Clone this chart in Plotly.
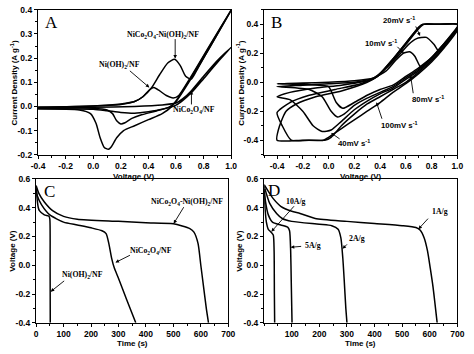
import plotly.graph_objects as go

# ---------------- Panel A : CV curves of three electrodes ----------------
A_comp_V = [-0.4, -0.2, 0.0, 0.2, 0.3, 0.36, 0.42, 0.48, 0.54, 0.59, 0.63, 0.67, 0.71, 0.76, 0.85, 1.0,
            0.85, 0.72, 0.62, 0.57, 0.5, 0.4, 0.3, 0.22, 0.17, 0.13, 0.11, 0.08, 0.05, 0.02, -0.02, -0.1, -0.4]
A_comp_I = [-0.005, -0.002, 0.002, 0.008, 0.02, 0.04, 0.075, 0.13, 0.18, 0.195, 0.17, 0.125, 0.113, 0.16, 0.25, 0.4,
            0.255, 0.13, 0.04, 0.0, -0.03, -0.055, -0.08, -0.1, -0.13, -0.168, -0.178, -0.17, -0.13, -0.07, -0.03, -0.015, -0.01]

A_nioh_V = [-0.4, 0.0, 0.2, 0.3, 0.36, 0.41, 0.44, 0.48, 0.53, 0.58, 0.62, 0.7, 0.85, 1.0,
            0.85, 0.72, 0.6, 0.55, 0.45, 0.35, 0.28, 0.23, 0.2, 0.17, 0.14, 0.1, 0.0, -0.4]
A_nioh_I = [-0.003, 0.002, 0.01, 0.02, 0.04, 0.07, 0.078, 0.065, 0.045, 0.035, 0.045, 0.115, 0.258, 0.398,
            0.25, 0.125, 0.02, -0.003, -0.02, -0.035, -0.05, -0.068, -0.073, -0.06, -0.03, -0.015, -0.008, -0.006]

A_nco_V = [-0.4, 0.0, 0.3, 0.5, 0.6, 0.65, 0.71, 0.8, 0.9, 1.0,
           0.9, 0.8, 0.72, 0.65, 0.6, 0.5, 0.4, 0.3, 0.2, 0.1, 0.0, -0.4]
A_nco_I = [-0.008, -0.004, 0.0, 0.006, 0.014, 0.032, 0.064, 0.125, 0.19, 0.245,
           0.182, 0.115, 0.062, 0.025, 0.005, -0.012, -0.022, -0.028, -0.025, -0.018, -0.012, -0.01]

# ---------------- Panel B : CV at different scan rates ----------------
B10_V = [-0.4, -0.2, 0.0, 0.2, 0.35, 0.45, 0.52, 0.58, 0.63, 0.67, 0.72, 0.8, 0.9, 1.0,
         0.9, 0.8, 0.7, 0.6, 0.5, 0.4, 0.3, 0.2, 0.11, 0.06, 0.02, 0.0, -0.2, -0.4]
B10_I = [-0.01, -0.005, 0.0, 0.01, 0.03, 0.08, 0.15, 0.2, 0.21, 0.18, 0.1, 0.17, 0.27, 0.37,
         0.27, 0.17, 0.1, 0.04, -0.02, -0.05, -0.09, -0.14, -0.18, -0.14, -0.06, -0.03, -0.015, -0.01]

B20_V = [-0.4, -0.2, 0.0, 0.2, 0.35, 0.45, 0.55, 0.62, 0.68, 0.76, 0.82, 0.86, 0.93, 1.0,
         0.9, 0.8, 0.7, 0.6, 0.5, 0.4, 0.3, 0.2, 0.12, 0.07, 0.02, -0.05, -0.15, -0.4]
B20_I = [-0.03, -0.02, -0.01, 0.0, 0.03, 0.1, 0.19, 0.26, 0.3, 0.31, 0.26, 0.21, 0.29, 0.38,
         0.27, 0.17, 0.09, 0.03, -0.03, -0.07, -0.11, -0.16, -0.22, -0.24, -0.2, -0.1, -0.05, -0.03]

B40_V = [-0.4, -0.3, -0.1, 0.1, 0.3, 0.38, 0.5, 0.6, 0.7, 0.74, 0.85, 1.0,
         1.0, 0.9, 0.8, 0.7, 0.6, 0.5, 0.4, 0.3, 0.2, 0.1, 0.02, -0.05, -0.12, -0.2, -0.3, -0.4]
B40_I = [-0.1, -0.07, -0.04, -0.02, 0.01, 0.04, 0.15, 0.26, 0.37, 0.4, 0.4, 0.4,
         0.38, 0.26, 0.16, 0.08, 0.02, -0.04, -0.08, -0.13, -0.19, -0.27, -0.33, -0.34, -0.3, -0.2, -0.12, -0.1]

B80_V = [-0.4, -0.3, -0.15, 0.05, 0.25, 0.37, 0.5, 0.6, 0.7, 0.73, 0.85, 1.0,
         1.0, 0.9, 0.8, 0.7, 0.6, 0.5, 0.4, 0.3, 0.2, 0.1, 0.02, -0.03, -0.15, -0.29, -0.36, -0.4]
B80_I = [-0.21, -0.14, -0.09, -0.05, -0.01, 0.035, 0.16, 0.27, 0.38, 0.4, 0.4, 0.4,
         0.37, 0.25, 0.15, 0.07, 0.0, -0.05, -0.1, -0.15, -0.22, -0.3, -0.38, -0.4, -0.4, -0.4, -0.3, -0.21]

B100_V = [-0.4, -0.38, -0.33, -0.25, -0.1, 0.1, 0.3, 0.38, 0.5, 0.6, 0.7, 0.73, 0.85, 1.0,
          1.0, 0.9, 0.8, 0.7, 0.6, 0.5, 0.4, 0.3, 0.2, 0.1, 0.0, -0.04, -0.2, -0.4]
B100_I = [-0.4, -0.3, -0.2, -0.15, -0.1, -0.06, 0.0, 0.04, 0.16, 0.27, 0.38, 0.4, 0.4, 0.4,
          0.36, 0.24, 0.14, 0.06, -0.01, -0.07, -0.14, -0.2, -0.26, -0.32, -0.38, -0.4, -0.4, -0.4]

# ---------------- Panel C : discharge curves of three electrodes ----------------
C_comp_t = [0, 10, 30, 60, 100, 150, 300, 400, 500, 560, 575, 590, 600, 610, 620, 628]
C_comp_V = [0.555, 0.5, 0.44, 0.38, 0.34, 0.32, 0.305, 0.295, 0.288, 0.255, 0.23, 0.15, 0.0, -0.15, -0.3, -0.4]

C_nco_t = [0, 5, 20, 50, 100, 150, 200, 240, 255, 265, 275, 285, 300, 330, 363]
C_nco_V = [0.53, 0.48, 0.42, 0.35, 0.3, 0.28, 0.26, 0.24, 0.22, 0.15, 0.05, -0.02, -0.09, -0.24, -0.4]

C_nioh_t = [0, 3, 8, 12, 30, 47, 50, 51, 51.5]
C_nioh_V = [0.55, 0.47, 0.4, 0.38, 0.35, 0.34, 0.32, 0.0, -0.4]

# ---------------- Panel D : discharge at different current densities ----------------
D1_t = [0, 30, 60, 100, 130, 185, 300, 400, 500, 550, 565, 580, 592, 602, 612, 627]
D1_V = [0.56, 0.47, 0.41, 0.375, 0.36, 0.325, 0.305, 0.29, 0.275, 0.262, 0.245, 0.19, 0.1, -0.02, -0.15, -0.4]

D2_t = [0, 20, 45, 67, 100, 200, 245, 268, 278, 285, 290, 296, 300]
D2_V = [0.55, 0.43, 0.36, 0.323, 0.305, 0.285, 0.275, 0.25, 0.19, 0.05, -0.1, -0.3, -0.4]

D5_t = [0, 5, 15, 30, 60, 85, 92, 96, 98, 101]
D5_V = [0.53, 0.44, 0.35, 0.3, 0.28, 0.265, 0.24, 0.1, -0.1, -0.4]

D10_t = [0, 3, 8, 15, 25, 33, 36, 37, 38]
D10_V = [0.52, 0.4, 0.3, 0.25, 0.23, 0.21, 0.1, -0.2, -0.4]

# ---------------- tick labels ----------------
A_xticks = [-0.4, -0.2, 0.0, 0.2, 0.4, 0.6, 0.8, 1.0]
A_xtext = ["-0.4", "-0.2", "0.0", "0.2", "0.4", "0.6", "0.8", "1.0"]
A_yticks = [-0.2, -0.1, 0.0, 0.1, 0.2, 0.3, 0.4]
A_ytext = ["-0.2", "-0.1", "0.0", "0.1", "0.2", "0.3", "0.4"]
B_yticks = [-0.4, -0.2, 0.0, 0.2, 0.4]
B_ytext = ["-0.4", "-0.2", "0.0", "0.2", "0.4"]
C_xticks = [0, 100, 200, 300, 400, 500, 600, 700]
C_xtext = ["0", "100", "200", "300", "400", "500", "600", "700"]
D_xticks = [100, 200, 300, 400, 500, 600, 700]
D_xtext = ["100", "200", "300", "400", "500", "600", "700"]
CD_yticks = [-0.4, -0.2, 0.0, 0.2, 0.4, 0.6]
CD_ytext = ["-0.4", "-0.2", "0.0", "0.2", "0.4", "0.6"]

W, H = 474, 354
fig = go.Figure()
LINE = dict(color="black", width=1.5, shape="spline", smoothing=0.6)

def add(x, y, xa, ya):
    fig.add_trace(go.Scatter(x=x, y=y, mode="lines", line=LINE, xaxis=xa, yaxis=ya,
                             showlegend=False, hoverinfo="skip"))

for xs, ys in [(A_comp_V, A_comp_I), (A_nioh_V, A_nioh_I), (A_nco_V, A_nco_I)]:
    add(xs, ys, "x", "y")
for xs, ys in [(B10_V, B10_I), (B20_V, B20_I), (B40_V, B40_I), (B80_V, B80_I), (B100_V, B100_I)]:
    add(xs, ys, "x2", "y2")
for xs, ys in [(C_comp_t, C_comp_V), (C_nco_t, C_nco_V), (C_nioh_t, C_nioh_V)]:
    add(xs, ys, "x3", "y3")
for xs, ys in [(D1_t, D1_V), (D2_t, D2_V), (D5_t, D5_V), (D10_t, D10_V)]:
    add(xs, ys, "x4", "y4")

TF = dict(family="Liberation Sans", size=8.5, color="black", weight="bold")

def axis(dom, rng, tv, tt, minor_dt, anchor):
    return dict(domain=dom, range=rng, tickmode="array", tickvals=tv, ticktext=tt,
                showline=True, mirror=True, linecolor="black", linewidth=1.4,
                ticks="outside", ticklen=3, tickwidth=1, tickcolor="black",
                showgrid=False, zeroline=False, tickfont=TF, anchor=anchor,
                minor=dict(ticks="outside", ticklen=2, tickwidth=1, tickcolor="black",
                           dtick=minor_dt, tick0=0, showgrid=False))

def px_x(a, b):
    return [a / W, b / W]

def px_y(top, bot):
    return [1 - bot / H, 1 - top / H]

fig.update_layout(
    width=W, height=H, margin=dict(l=0, r=0, t=0, b=0),
    paper_bgcolor="white", plot_bgcolor="white", showlegend=False,
    xaxis=axis(px_x(32, 231), [-0.4, 1.0], A_xticks, A_xtext, 0.1, "y"),
    yaxis=axis(px_y(5, 154), [-0.2, 0.4], A_yticks, A_ytext, 0.05, "x"),
    xaxis2=axis(px_x(265, 464), [-0.5, 1.0], A_xticks, A_xtext, 0.1, "y2"),
    yaxis2=axis(px_y(5, 154), [-0.5, 0.5], B_yticks, B_ytext, 0.1, "x2"),
    xaxis3=axis(px_x(30, 228), [0, 700], C_xticks, C_xtext, 50, "y3"),
    yaxis3=axis(px_y(179, 327), [-0.4, 0.6], CD_yticks, CD_ytext, 0.1, "x3"),
    xaxis4=axis(px_x(265, 464), [0, 700], D_xticks, D_xtext, 50, "y4"),
    yaxis4=axis(px_y(179, 327), [-0.4, 0.6], CD_yticks, CD_ytext, 0.1, "x4"),
)

ann = []
TITLE = dict(family="Liberation Sans", size=8, color="black", weight="bold")

def ptext(text, px, py, font, angle=0):
    ann.append(dict(text=text, x=px / W, y=1 - py / H, xref="paper", yref="paper",
                    showarrow=False, font=font, textangle=angle,
                    xanchor="center", yanchor="middle"))

# axis titles
ptext("Current Density (A g<sup>-1</sup>)", 7, 80, TITLE, -90)
ptext("Current Density (A g<sup>-1</sup>)", 240, 80, TITLE, -90)
ptext("Voltage (V)", 6, 253, TITLE, -90)
ptext("Voltage (V)", 240, 253, TITLE, -90)
ptext("Voltage (V)", 131, 176, TITLE)
ptext("Voltage (V)", 365, 176, TITLE)
ptext("Time (s)", 129, 348.5, TITLE)
ptext("Time (s)", 364, 348.5, TITLE)

# panel letters
LET = dict(family="Liberation Serif", size=17, color="black")
ptext("A", 46, 18, LET)
ptext("B", 278, 18, LET)
ptext("C", 44, 192, LET)
ptext("D", 275, 191, LET)

# curve labels
SER = dict(family="Liberation Serif", size=7.8, color="black", weight="bold")
SAN = dict(family="Liberation Sans", size=7.8, color="black", weight="bold")
ptext("NiCo<sub>2</sub>O<sub>4</sub>-Ni(OH)<sub>2</sub>/NF", 161, 31, SER)
ptext("Ni(OH)<sub>2</sub>/NF", 116, 62, SER)
ptext("NiCo<sub>2</sub>O<sub>4</sub>/NF", 193, 108, SER)
ptext("20mV s<sup>-1</sup>", 404, 15, SAN)
ptext("10mV s<sup>-1</sup>", 385, 39, SAN)
ptext("80mV s<sup>-1</sup>", 434, 97, SAN)
ptext("100mV s<sup>-1</sup>", 404, 123, SAN)
ptext("40mV s<sup>-1</sup>", 358, 142, SAN)
ptext("NiCo<sub>2</sub>O<sub>4</sub>-Ni(OH)<sub>2</sub>/NF", 185, 203, SER)
ptext("NiCo<sub>2</sub>O<sub>4</sub>/NF", 148, 253, SER)
ptext("Ni(OH)<sub>2</sub>/NF", 78, 278, SER)
ptext("10A/g", 298, 202, SER)
ptext("1A/g", 446, 213, SER)
ptext("2A/g", 361, 240, SER)
ptext("5A/g", 315, 248, SER)

# arrows: head in data coords, tail as pixel offset
def arrow(xa, ya, x, y, ax, ay):
    ann.append(dict(text="", x=x, y=y, xref=xa, yref=ya, ax=ax, ay=ay, showarrow=True,
                    arrowhead=2, arrowsize=0.8, arrowwidth=0.9, arrowcolor="black"))

arrow("x", "y", 0.594, 0.198, 0, -21)
arrow("x", "y", 0.407, 0.078, -21, -18)
arrow("x", "y", 0.712, 0.064, 0, 15)
arrow("x2", "y2", 0.711, 0.32, -5, -11)
arrow("x2", "y2", 0.585, 0.2, -8, -8)
arrow("x2", "y2", 0.636, 0.052, 3, 20)
arrow("x2", "y2", 0.372, -0.138, 6, 18)
arrow("x2", "y2", 0.02, -0.35, 10, 7)
arrow("x3", "y3", 501, 0.289, 11, -18)
arrow("x3", "y3", 289, 0.019, 16, -8)
arrow("x3", "y3", 53, -0.184, 15, -12)
arrow("x4", "y4", 26, 0.233, 24, -27)
arrow("x4", "y4", 559, 0.251, 11, -12)
arrow("x4", "y4", 284, 0.114, 6, -6)
arrow("x4", "y4", 96, 0.125, 12, -1)

fig.update_layout(annotations=ann)
fig.write_html("out.html")
